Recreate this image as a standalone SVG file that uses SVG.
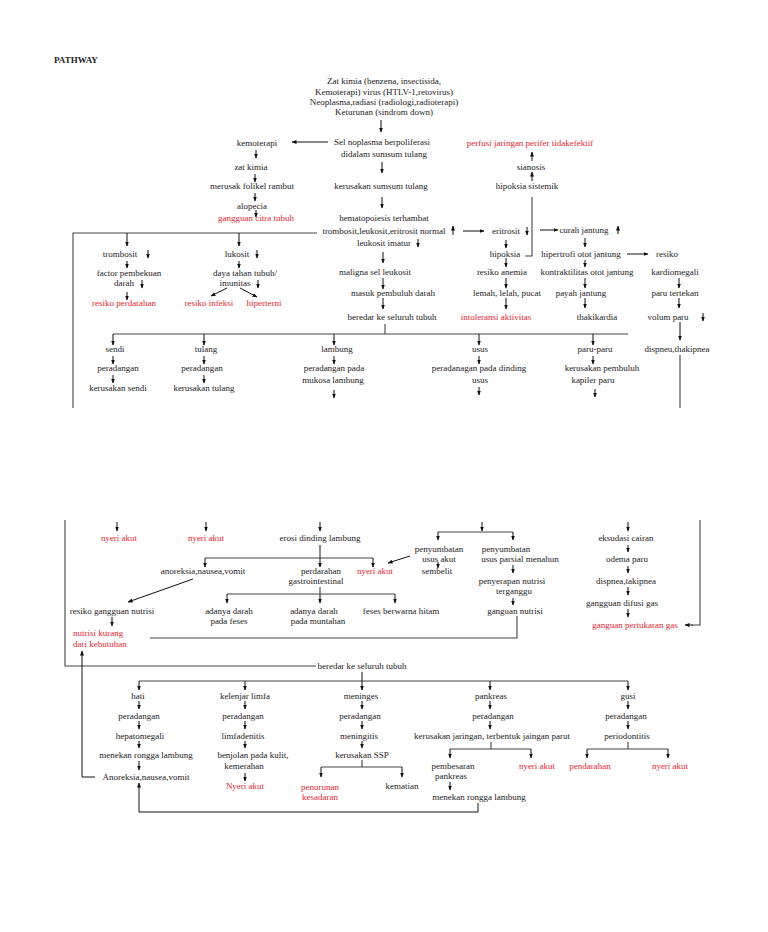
<svg xmlns="http://www.w3.org/2000/svg" width="768" height="932" viewBox="0 0 768 932">
<style>
text{font-family:"Liberation Serif","Times New Roman",serif;font-size:9px;fill:#222;text-anchor:middle}
.r{fill:#e3262f}
.s{text-anchor:start}
.b{font-weight:bold}
.a{stroke:#111;stroke-width:1;fill:none;marker-end:url(#ah)}
.l{stroke:#444;stroke-width:1.1;fill:none}
</style>
<defs>
<marker id="ah" viewBox="0 0 10 10" refX="9" refY="5" markerUnits="userSpaceOnUse" markerWidth="5" markerHeight="5" orient="auto">
<path d="M0,1 L10,5 L0,9 z" fill="#111"/>
</marker>
</defs>
<rect width="768" height="932" fill="#fff"/>
<text class="s b" x="54" y="63">PATHWAY</text>

<g id="cause"><text x="384" y="84">Zat kimia (benzena, insectisida,</text><text x="384" y="95">Kemoterapi) virus (HTLV-1,retovirus)</text><text x="384" y="105">Neoplasma,radiasi (radiologi,radioterapi)</text><text x="384" y="115">Keturunan (sindrom down)</text></g>
<g id="sel"><text x="382" y="145">Sel noplasma berpoliferasi</text><text x="384" y="157">didalam sumsum tulang</text></g>
<g id="kemoterapi"><text x="257" y="146">kemoterapi</text></g>
<g id="zatkimia"><text x="251" y="170">zat kimia</text></g>
<g id="folikel"><text x="252" y="189">merusak folikel rambut</text></g>
<g id="alopecia"><text x="252" y="209">alopecia</text></g>
<g id="citra"><text class="r" x="256" y="221">gangguan citra tubuh</text></g>
<g id="kerusakan_sumsum"><text x="381" y="189">kerusakan sumsum tulang</text></g>
<g id="hemato"><text x="384" y="221">hematopoiesis terhambat</text><text x="384" y="234">trombosit,leukosit,eritrosit normal</text><text x="384" y="246">leukosit imatur</text></g>
<g id="perfusi"><text class="r" x="530" y="146">perfusi jaringan perifer tidakefektif</text></g>
<g id="sianosis"><text x="531" y="170">sianosis</text></g>
<g id="hipoksia_sis"><text x="527" y="189">hipoksia sistemik</text></g>
<g id="eritrosit"><text x="506" y="234">eritrosit</text></g>
<g id="hipoksia"><text x="505" y="257">hipoksia</text></g>
<g id="anemia"><text x="502" y="275">resiko anemia</text></g>
<g id="lemah"><text x="507" y="296">lemah, lelah, pucat</text></g>
<g id="intoleransi"><text class="r" x="496" y="320">intoleransi aktivitas</text></g>
<g id="curah"><text x="584" y="233">curah jantung</text></g>
<g id="hipertrofi"><text x="581" y="257">hipertrofi otot jantung</text></g>
<g id="resiko_kardio"><text x="667" y="257">resiko</text><text x="675" y="275">kardiomegali</text></g>
<g id="kontraktilitas"><text x="587" y="275">kontraktilitas otot jantung</text></g>
<g id="payah"><text x="581" y="296">payah jantung</text></g>
<g id="paru_tertekan"><text x="675" y="296">paru tertekan</text></g>
<g id="thakikardia"><text x="597" y="320">thakikardia</text></g>
<g id="volum"><text x="668" y="320">volum paru</text></g>
<g id="dispneu"><text x="677" y="352">dispneu,thakipnea</text></g>
<g id="trombosit"><text x="120" y="257">trombosit</text></g>
<g id="pembekuan"><text x="129" y="276">factor pembekuan</text><text x="124" y="286">darah</text></g>
<g id="perdarahan_r"><text class="r" x="124" y="306">resiko perdarahan</text></g>
<g id="lukosit"><text x="237" y="257">lukosit</text></g>
<g id="dayatahan"><text x="245" y="276">daya tahan tubuh/</text><text x="235" y="286">imunitas</text></g>
<g id="infeksi"><text class="r" x="209" y="306">resiko infeksi</text></g>
<g id="hiperterni"><text class="r" x="264" y="306">hiperterni</text></g>
<g id="maligna"><text x="375" y="275">maligna sel leukosit</text></g>
<g id="masuk"><text x="393" y="296">masuk pembuluh darah</text></g>
<g id="beredar1"><text x="392" y="320">beredar ke seluruh tubuh</text></g>
<g id="sendi"><text x="115" y="352">sendi</text><text x="118" y="371">peradangan</text><text x="118" y="391">kerusakan sendi</text></g>
<g id="tulang"><text x="206" y="352">tulang</text><text x="202" y="371">peradangan</text><text x="204" y="391">kerusakan tulang</text></g>
<g id="lambung"><text x="337" y="352">lambung</text><text x="334" y="371">peradangan pada</text><text x="333" y="383">mukosa lambung</text></g>
<g id="usus"><text x="480" y="352">usus</text><text x="479" y="371">peradanagan pada dinding</text><text x="480" y="383">usus</text></g>
<g id="paru"><text x="595" y="352">paru-paru</text><text x="602" y="371">kerusakan pembuluh</text><text x="593" y="383">kapiler paru</text></g>

<g id="nyeri_sendi"><text class="r" x="119" y="541">nyeri akut</text></g>
<g id="nyeri_tulang"><text class="r" x="206" y="541">nyeri akut</text></g>
<g id="erosi"><text x="320" y="541">erosi dinding lambung</text></g>
<g id="anoreksia1"><text x="203" y="574">anoreksia,nausea,vomit</text></g>
<g id="perdarahan_gi"><text x="321" y="574">perdarahan</text><text x="316" y="584">gastrointestinal</text></g>
<g id="nyeri_lambung"><text class="r" x="375" y="574">nyeri akut</text></g>
<g id="sumbat_akut"><text x="439" y="552">penyumbatan</text><text x="439" y="562">usus akut</text></g>
<g id="sembelit"><text x="437" y="574">sembelit</text></g>
<g id="sumbat_parsial"><text x="506" y="552">penyumbatan</text><text x="520" y="562">usus parsial menahun</text></g>
<g id="penyerapan"><text x="512" y="584">penyerapan nutrisi</text><text x="514" y="594">terganggu</text></g>
<g id="ganguan_nutrisi"><text x="515" y="614">ganguan nutrisi</text></g>
<g id="resiko_nutrisi"><text x="112" y="614">resiko gangguan nutrisi</text></g>
<g id="nutrisi_kurang"><text class="r s" x="73" y="636">nutrisi kurang</text><text class="r s" x="73" y="647">dari kebutuhan</text></g>
<g id="darah_feses"><text x="229" y="614">adanya darah</text><text x="229" y="624">pada feses</text></g>
<g id="darah_muntahan"><text x="314" y="614">adanya darah</text><text x="318" y="624">pada muntahan</text></g>
<g id="feses_hitam"><text x="401" y="614">feses berwarna hitam</text></g>
<g id="eksudasi"><text x="626" y="541">eksudasi cairan</text></g>
<g id="odema"><text x="627" y="562">odema paru</text></g>
<g id="dispnea"><text x="626" y="584">dispnea,takipnea</text></g>
<g id="difusi"><text x="622" y="606">gangguan difusi gas</text></g>
<g id="pertukaran"><text class="r" x="635" y="628">ganguan pertukaran gas</text></g>
<g id="beredar2"><text x="362" y="669">beredar ke seluruh tubuh</text></g>
<g id="hati"><text x="138" y="699">hati</text><text x="139" y="719">peradangan</text><text x="140" y="739">hepatomegali</text><text x="146" y="758">menekan rongga lambung</text></g>
<g id="anoreksia2"><text x="146" y="780">Anoreksia,nausea,vomit</text></g>
<g id="limfa"><text x="245" y="699">kelenjar limfa</text><text x="243" y="719">peradangan</text><text x="243" y="739">limfadenitis</text><text x="253" y="758">benjolan pada kulit,</text><text x="244" y="769">kemerahan</text><text class="r" x="245" y="789">Nyeri akut</text></g>
<g id="meninges"><text x="361" y="699">meninges</text><text x="360" y="719">peradangan</text><text x="359" y="739">meningitis</text><text x="362" y="758">kerusakan SSP</text></g>
<g id="penurunan"><text class="r" x="320" y="790">penurunan</text><text class="r" x="320" y="800">kesadaran</text></g>
<g id="kematian"><text x="402" y="789">kematian</text></g>
<g id="pankreas"><text x="491" y="699">pankreas</text><text x="493" y="719">peradangan</text><text x="492" y="739">kerusakan jaringan, terbentuk jaingan parut</text></g>
<g id="pembesaran"><text x="453" y="769">pembesaran</text><text x="451" y="779">pankreas</text><text x="479" y="800">menekan rongga lambung</text></g>
<g id="nyeri_pankreas"><text class="r" x="537" y="769">nyeri akut</text></g>
<g id="gusi"><text x="628" y="699">gusi</text><text x="626" y="719">peradangan</text><text x="627" y="739">periodontitis</text></g>
<g id="pendarahan"><text class="r" x="590" y="769">pendarahan</text></g>
<g id="nyeri_gusi"><text class="r" x="670" y="769">nyeri akut</text></g>

<g id="connectors">
<path class="a" d="M381,120V132"/>
<path class="a" d="M328,142H292"/>
<path class="a" d="M256,150V158"/>
<path class="a" d="M255,174V182"/>
<path class="a" d="M255,193V201"/>
<path class="a" d="M256,210V217"/>
<path class="a" d="M382,162V173"/>
<path class="a" d="M382,197V208"/>
<path class="l" d="M317,233H73V408"/>
<path class="a" d="M127,233V246"/>
<path class="a" d="M239,233V246"/>
<path class="a" d="M148,250V258"/>
<path class="a" d="M127,261V268"/>
<path class="a" d="M142,280V288"/>
<path class="a" d="M127,292V300"/>
<path class="a" d="M257,250V258"/>
<path class="a" d="M239,261V268"/>
<path class="a" d="M258,280V288"/>
<path class="a" d="M227,288L211,296"/>
<path class="a" d="M240,288L257,297"/>
<path class="a" d="M453,235V226"/>
<path class="a" d="M418,239V247"/>
<path class="a" d="M383,252V263"/>
<path class="a" d="M383,278V289"/>
<path class="a" d="M383,298V309"/>
<path class="l" d="M385,324V334M113,334H628"/>
<path class="a" d="M113,334V345"/>
<path class="a" d="M204,334V345"/>
<path class="a" d="M334,334V345"/>
<path class="a" d="M479,334V345"/>
<path class="a" d="M593,334V345"/>
<path class="a" d="M463,231H484"/>
<path class="a" d="M527,227V235"/>
<path class="a" d="M506,240V248"/>
<path class="l" d="M525,256H532V197"/>
<path class="a" d="M532,181V172"/>
<path class="a" d="M532,161V152"/>
<path class="a" d="M506,258V267"/>
<path class="a" d="M506,278V288"/>
<path class="a" d="M506,298V309"/>
<path class="a" d="M540,230H558"/>
<path class="a" d="M618,234V226"/>
<path class="a" d="M585,238V247"/>
<path class="a" d="M627,254H648"/>
<path class="a" d="M585,260V267"/>
<path class="a" d="M585,278V288"/>
<path class="a" d="M585,298V308"/>
<path class="a" d="M679,278V288"/>
<path class="a" d="M679,298V308"/>
<path class="a" d="M703,313V321"/>
<path class="a" d="M680,322V340"/>
<path class="l" d="M680,355V408"/>
<path class="a" d="M113,356V364"/>
<path class="a" d="M113,375V383"/>
<path class="a" d="M204,356V364"/>
<path class="a" d="M204,375V383"/>
<path class="a" d="M334,356V364"/>
<path class="a" d="M334,390V398"/>
<path class="a" d="M479,356V364"/>
<path class="a" d="M479,387V395"/>
<path class="a" d="M593,356V364"/>
<path class="a" d="M595,389V397"/>

<path class="l" d="M65,520V666H316"/>
<path class="a" d="M117,522V531"/>
<path class="a" d="M206,522V531"/>
<path class="a" d="M320,522V531"/>
<path class="a" d="M482,522V531"/>
<path class="a" d="M628,522V531"/>
<path class="a" d="M320,545V567"/>
<path class="l" d="M205,558H373"/>
<path class="a" d="M205,558V567"/>
<path class="a" d="M373,558V567"/>
<path class="a" d="M193,579L128,602"/>
<path class="l" d="M320,587V594M227,594H395"/>
<path class="a" d="M227,594V603"/>
<path class="a" d="M320,594V603"/>
<path class="a" d="M395,594V603"/>
<path class="a" d="M112,617V626"/>
<path class="l" d="M438,532H513"/>
<path class="a" d="M438,532V540"/>
<path class="a" d="M513,532V540"/>
<path class="a" d="M410,556L388,563"/>
<path class="a" d="M438,562V568"/>
<path class="a" d="M513,565V573"/>
<path class="a" d="M513,598V605"/>
<path class="l" d="M517,616V638H150"/>
<path class="a" d="M628,545V552"/>
<path class="a" d="M628,566V573"/>
<path class="a" d="M628,587V595"/>
<path class="a" d="M628,609V617"/>
<path class="l" d="M700,520V625H692"/>
<path class="a" d="M693,625H685"/>
<path class="l" d="M139,681H628"/>
<path class="a" d="M362,672V690"/>
<path class="a" d="M139,681V690"/>
<path class="a" d="M245,681V690"/>
<path class="a" d="M490,681V690"/>
<path class="a" d="M628,681V690"/>
<path class="a" d="M139,701V709"/>
<path class="a" d="M139,721V729"/>
<path class="a" d="M139,741V748"/>
<path class="a" d="M139,761V770"/>
<path class="a" d="M245,701V709"/>
<path class="a" d="M245,721V729"/>
<path class="a" d="M245,741V748"/>
<path class="a" d="M245,773V781"/>
<path class="a" d="M362,701V709"/>
<path class="a" d="M362,721V729"/>
<path class="a" d="M362,741V748"/>
<path class="l" d="M362,760V767M321,767H402"/>
<path class="a" d="M321,767V777"/>
<path class="a" d="M402,767V777"/>
<path class="a" d="M490,701V709"/>
<path class="a" d="M490,721V729"/>
<path class="l" d="M491,742V749M450,749H531"/>
<path class="a" d="M450,749V758"/>
<path class="a" d="M531,749V758"/>
<path class="a" d="M450,782V790"/>
<path class="a" d="M628,701V709"/>
<path class="a" d="M628,721V729"/>
<path class="l" d="M628,742V749M587,749H668"/>
<path class="a" d="M587,749V758"/>
<path class="a" d="M668,749V758"/>
<path class="a" d="M95,777H82V651"/>
<path class="a" d="M478,803V812H139V783"/>
</g>
</svg>
